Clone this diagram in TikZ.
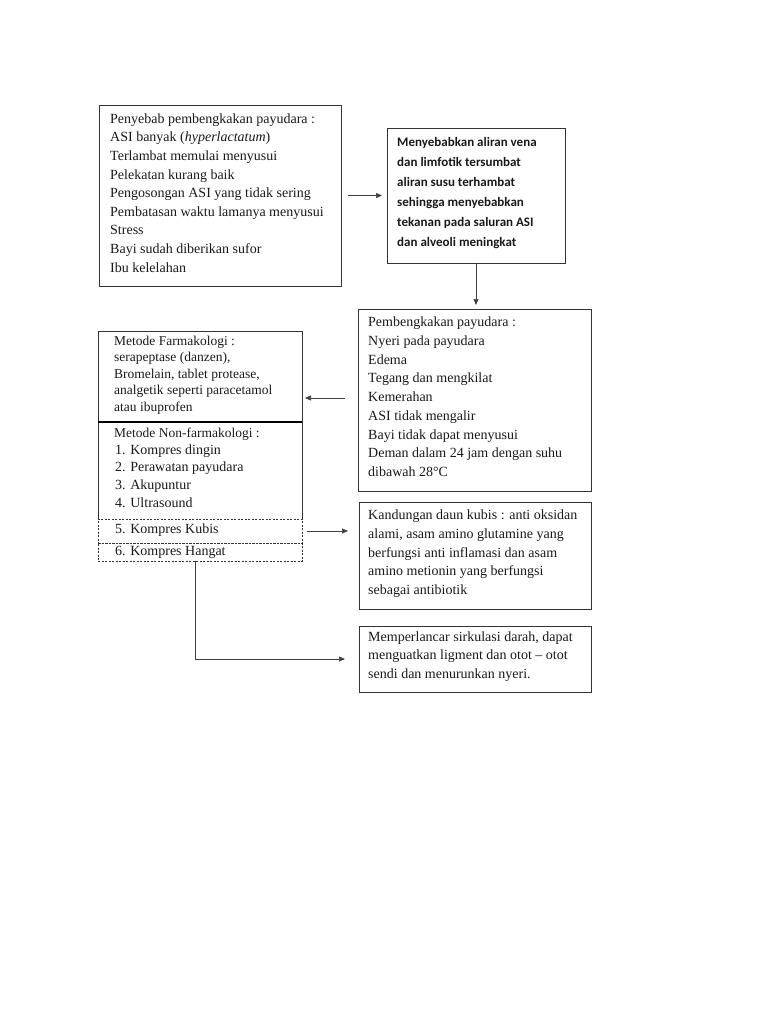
\documentclass[tikz,border=0pt]{standalone}
\usepackage{fontspec}
\setmainfont{Liberation Serif}
\newfontfamily\boxsans{Carlito}
\usetikzlibrary{arrows.meta,calc}
\begin{document}
\begin{tikzpicture}[x=1pt,y=-1pt,
  box/.style={draw=black!80, line width=0.8pt, inner sep=0pt, outer sep=0pt, anchor=north west},
  dbox/.style={box, dash pattern=on 2pt off 1.5pt},
  open/.style={inner sep=0pt, outer sep=0pt, anchor=north west},
  txt/.style={inner sep=0pt, anchor=north west, text=black!90, font=\fontsize{14}{18.6}\selectfont},
  arr/.style={draw=black!75, line width=0.7pt, -{Triangle[length=6pt,width=5pt]}},
]
\useasboundingbox (0,0) rectangle (768,1024);

% boxes
\node[box, minimum width=242pt, minimum height=181pt] (A) at (99,105) {};
\node[box, minimum width=178pt, minimum height=135pt] (B) at (387,128) {};
\node[box, minimum width=233pt, minimum height=182pt] (C) at (358,309) {};
\node[box, minimum width=204pt, minimum height=91pt] (D1) at (98,331) {};
\node[open, minimum width=204pt, minimum height=97pt] (D2) at (98,422) {};
\draw[draw=black!80, line width=0.8pt] (D2.south west) -- (D2.north west) (D2.north east) -- (D2.south east);
\draw[black, line width=2.6pt] (D1.south west) -- (D1.south east);
\node[dbox, minimum width=204pt, minimum height=24pt] (D3) at (98,519) {};
\node[dbox, minimum width=204pt, minimum height=18pt] (D4) at (98,543) {};
\node[box, minimum width=232pt, minimum height=107pt] (E) at (359,502) {};
\node[box, minimum width=232pt, minimum height=66pt] (F) at (359,626) {};

% texts
\node[txt] (At) at (110,110) {\begin{tabular}{@{}l@{}}
Penyebab pembengkakan payudara :\\
ASI banyak (\textit{hyperlactatum})\\
Terlambat memulai menyusui\\
Pelekatan kurang baik\\
Pengosongan ASI yang tidak sering\\
Pembatasan waktu lamanya menyusui\\
Stress\\
Bayi sudah diberikan sufor\\
Ibu kelelahan
\end{tabular}};

\node[txt, font=\boxsans\bfseries\fontsize{13}{20}\selectfont] (Bt) at (397,132) {\begin{tabular}{@{}l@{}}
Menyebabkan aliran vena\\
dan limfotik tersumbat\\
aliran susu terhambat\\
sehingga menyebabkan\\
tekanan pada saluran ASI\\
dan alveoli meningkat
\end{tabular}};

\node[txt, font=\fontsize{14}{18.75}\selectfont] (Ct) at (368,313.4) {\begin{tabular}{@{}l@{}}
Pembengkakan payudara :\\
Nyeri pada payudara\\
Edema\\
Tegang dan mengkilat\\
Kemerahan\\
ASI tidak mengalir\\
Bayi tidak dapat menyusui\\
Deman dalam 24 jam dengan suhu\\
dibawah 28°C
\end{tabular}};

\node[txt, font=\fontsize{13.5}{16.5}\selectfont] (D1t) at (114,333.5) {\begin{tabular}{@{}l@{}}
Metode Farmakologi :\\
serapeptase (danzen),\\
Bromelain, tablet protease,\\
analgetik seperti paracetamol\\
atau ibuprofen
\end{tabular}};

\node[txt, font=\fontsize{13.5}{18.6}\selectfont] (D2h) at (114,424) {\begin{tabular}{@{}l@{}}Metode Non-farmakologi :\end{tabular}};
\node[txt, font=\fontsize{14}{17.8}\selectfont] (D2t) at (115,441.5) {\begin{tabular}{@{}l@{}}
1. Kompres dingin\\
2. Perawatan payudara\\
3. Akupuntur\\
4. Ultrasound
\end{tabular}};
\node[txt] (D3t) at (115,520) {\begin{tabular}{@{}l@{}}5. Kompres Kubis\end{tabular}};
\node[txt] (D4t) at (115,542) {\begin{tabular}{@{}l@{}}6. Kompres Hangat\end{tabular}};

\node[txt, font=\fontsize{14}{18.7}\selectfont] (Et) at (368,506.5) {\begin{tabular}{@{}l@{}}
Kandungan daun kubis : anti oksidan\\
alami, asam amino glutamine yang\\
berfungsi anti inflamasi dan asam\\
amino metionin yang berfungsi\\
sebagai antibiotik
\end{tabular}};

\node[txt, font=\fontsize{14}{18.7}\selectfont] (Ft) at (368,627.9) {\begin{tabular}{@{}l@{}}
Memperlancar sirkulasi darah, dapat\\
menguatkan ligment dan otot – otot\\
sendi dan menurunkan nyeri.
\end{tabular}};

% connectors
\draw[arr, shorten <=7pt, shorten >=5pt] (A.east) -- (B.west);
\draw[arr, shorten >=4pt] (B.south) -- (B.south |- C.north);
\draw[arr, shorten <=13pt, shorten >=3pt] ([yshift=2pt]C.west) -- ([yshift=2pt]C.west -| D1.east);
\draw[arr, shorten <=5pt, shorten >=11pt] (D3.east) -- (D3.east -| E.west);
\draw[arr, shorten >=14pt] ([xshift=-5pt]D4.south) |- (F.west);
\end{tikzpicture}
\end{document}
